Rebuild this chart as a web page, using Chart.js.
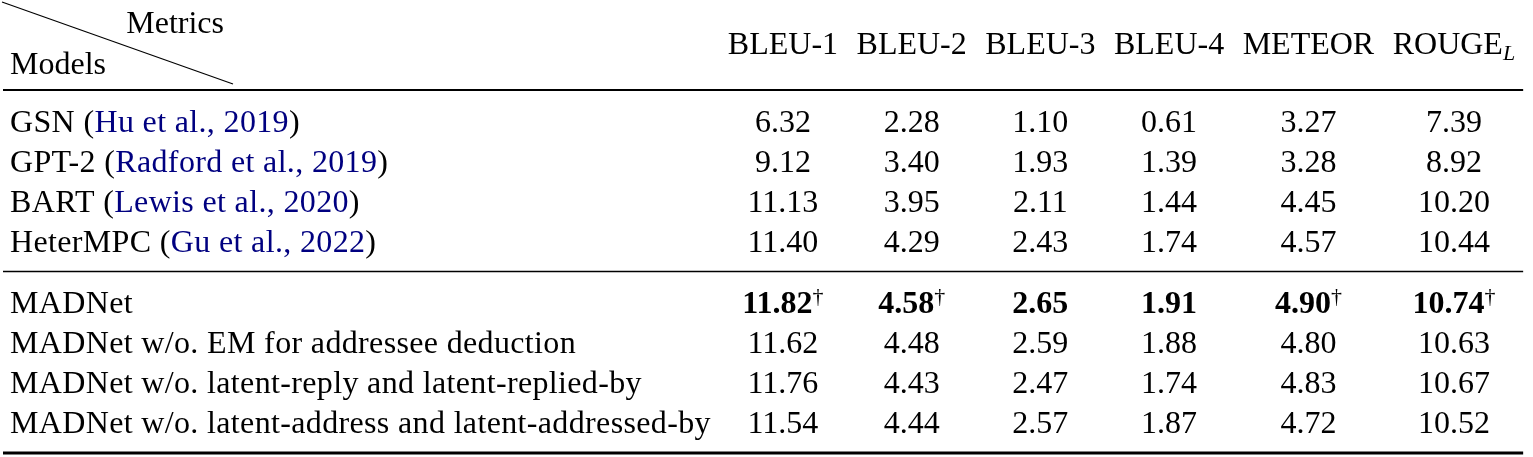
<!DOCTYPE html>
<html>
<head>
<meta charset="utf-8">
<title>MADNet results</title>
<script src="https://cdn.jsdelivr.net/npm/chart.js@4.4.1/dist/chart.umd.min.js"></script>
<style>
  html, body { margin: 0; padding: 0; background: #fff; }
  #wrap { width: 1533px; height: 457px; position: relative; }
</style>
</head>
<body>
<div id="wrap"><canvas id="table"></canvas></div>
<script>
// ---- data ----
const models = [
  "GSN", "GPT-2", "BART", "HeterMPC",
  "MADNet",
  "MADNet w/o. EM for addressee deduction",
  "MADNet w/o. latent-reply and latent-replied-by",
  "MADNet w/o. latent-address and latent-addressed-by"
];
const citations = ["Hu et al., 2019", "Radford et al., 2019", "Lewis et al., 2020", "Gu et al., 2022", null, null, null, null];
const groupOf = [0, 0, 0, 0, 1, 1, 1, 1];

const metrics = ["BLEU-1", "BLEU-2", "BLEU-3", "BLEU-4", "METEOR", "ROUGE"];
const metricSub = [null, null, null, null, null, "L"];

const bleu1  = [6.32, 9.12, 11.13, 11.40, 11.82, 11.62, 11.76, 11.54];
const bleu2  = [2.28, 3.40, 3.95, 4.29, 4.58, 4.48, 4.43, 4.44];
const bleu3  = [1.10, 1.93, 2.11, 2.43, 2.65, 2.59, 2.47, 2.57];
const bleu4  = [0.61, 1.39, 1.44, 1.74, 1.91, 1.88, 1.74, 1.87];
const meteor = [3.27, 3.28, 4.45, 4.57, 4.90, 4.80, 4.83, 4.72];
const rougeL = [7.39, 8.92, 10.20, 10.44, 10.74, 10.63, 10.67, 10.52];
const series = [bleu1, bleu2, bleu3, bleu4, meteor, rougeL];

const bestRow = 4;                                   // bold row
const bestDagger = [true, true, false, false, true, true];

// ---- layout ----
const W = 1533, H = 457;
const FS = 32, SMALL = 22;
const SERIF = '"Liberation Serif", "Times New Roman", Times, serif';
const INK = "#000", CITE = "#000080";
const NAME_SPACING = "0.35px";

const ROW = 40;          // px per row unit
const HEAD_Y = 43;       // px centre of header line
const HEAD_GAP = 1.95;   // header -> first row, in row units
const GROUP_GAP = 0.525; // extra space around the mid rule
const RULE_OFF = 0.775;

const TEXT_LEFT = 10, RULE_LEFT = 3, RULE_PAD = 8;
const LEAD_GAP = 17, COL_GAP = 18.5;
const DIAG_RIGHT = 233, METRICS_RIGHT = 224;

const rowY = i => HEAD_GAP + i + groupOf[i] * GROUP_GAP;

function font(r) {
  return (r.italic ? "italic " : "") + (r.bold ? "bold " : "") + (r.size || FS) + "px " + SERIF;
}

const measureCtx = document.createElement("canvas").getContext("2d");
function runsWidth(ctx, runs) {
  let w = 0;
  runs.forEach(r => {
    ctx.font = font(r);
    ctx.letterSpacing = r.spacing || "0px";
    w += ctx.measureText(r.text).width;
  });
  ctx.letterSpacing = "0px";
  return w;
}

// cell contents
const nameCells = models.map((m, i) => {
  const runs = [{ text: m, color: INK, spacing: NAME_SPACING }];
  if (citations[i]) {
    runs[0].text = m + " (";
    runs.push({ text: citations[i], color: CITE, spacing: NAME_SPACING });
    runs.push({ text: ")", color: INK, spacing: NAME_SPACING });
  }
  return runs;
});
const headCells = metrics.map((m, k) => {
  const runs = [{ text: m, color: INK }];
  if (metricSub[k]) runs.push({ text: metricSub[k], color: INK, italic: true, size: SMALL, shift: 6 });
  return runs;
});
const valueCells = series.map((vals, k) => vals.map((v, i) => {
  const runs = [{ text: v.toFixed(2), color: INK, bold: i === bestRow }];
  if (i === bestRow && bestDagger[k]) runs.push({ text: "\u2020", color: INK, size: SMALL, shift: -10 });
  return runs;
}));

// column positions from text widths, like a tabular
const nameW = Math.max(...nameCells.map(c => runsWidth(measureCtx, c)));
const colX = [];
let cursor = TEXT_LEFT + nameW + LEAD_GAP;
series.forEach((vals, k) => {
  const w = Math.max(runsWidth(measureCtx, headCells[k]), ...valueCells[k].map(c => runsWidth(measureCtx, c)));
  colX.push(cursor + w / 2);
  cursor += w + COL_GAP;
});
const RULE_RIGHT = cursor - COL_GAP + RULE_PAD;

const lastRow = rowY(models.length - 1);
const rules = [
  { y: rowY(0) - RULE_OFF, width: 2 },
  { y: (rowY(3) + rowY(4)) / 2, width: 1.7 },
  { y: lastRow + RULE_OFF, width: 3 }
];

// ---- datasets: every cell is a point placed by the scales ----
const datasets = [
  {
    label: "corner",
    data: [{ x: METRICS_RIGHT, y: -0.525 }, { x: TEXT_LEFT, y: 0.5 }],
    cells: [[{ text: "Metrics", color: INK }], [{ text: "Models", color: INK }]],
    aligns: ["right", "left"]
  },
  {
    label: "header",
    data: metrics.map((m, k) => ({ x: colX[k], y: 0 })),
    cells: headCells,
    align: "center"
  },
  {
    label: "models",
    data: models.map((m, i) => ({ x: TEXT_LEFT, y: rowY(i) })),
    cells: nameCells,
    align: "left"
  }
];
series.forEach((vals, k) => {
  datasets.push({
    label: metrics[k],
    data: vals.map((v, i) => ({ x: colX[k], y: rowY(i) })),
    cells: valueCells[k],
    align: "center"
  });
});

function drawRuns(ctx, runs, x, y, align) {
  const w = runsWidth(ctx, runs);
  let cx = align === "left" ? x : align === "right" ? x - w : x - w / 2;
  const base = y + 0.34 * FS;
  ctx.textAlign = "left";
  ctx.textBaseline = "alphabetic";
  runs.forEach(r => {
    ctx.font = font(r);
    ctx.letterSpacing = r.spacing || "0px";
    ctx.fillStyle = r.color;
    ctx.fillText(r.text, cx, base + (r.shift || 0));
    cx += ctx.measureText(r.text).width;
  });
  ctx.letterSpacing = "0px";
}

const tablePlugin = {
  id: "tableText",
  afterDatasetsDraw(chart) {
    const ctx = chart.ctx;
    const xs = chart.scales.x, ys = chart.scales.y;
    ctx.save();
    ctx.strokeStyle = INK;

    rules.forEach(r => {
      const py = ys.getPixelForValue(r.y);
      ctx.lineWidth = r.width;
      ctx.beginPath();
      ctx.moveTo(xs.getPixelForValue(RULE_LEFT), py);
      ctx.lineTo(xs.getPixelForValue(RULE_RIGHT), py);
      ctx.stroke();
    });

    // diagonal of the corner cell
    ctx.lineWidth = 1.2;
    ctx.beginPath();
    ctx.moveTo(xs.getPixelForValue(RULE_LEFT - 1), ys.getPixelForValue(-1.025));
    ctx.lineTo(xs.getPixelForValue(DIAG_RIGHT), ys.getPixelForValue(1.025));
    ctx.stroke();

    chart.data.datasets.forEach((ds, di) => {
      chart.getDatasetMeta(di).data.forEach((pt, i) => {
        drawRuns(ctx, ds.cells[i], pt.x, pt.y, ds.aligns ? ds.aligns[i] : ds.align);
      });
    });
    ctx.restore();
  }
};

new Chart(document.getElementById("table"), {
  type: "scatter",
  data: { datasets },
  options: {
    responsive: true,
    maintainAspectRatio: false,
    animation: false,
    events: [],
    layout: { padding: 0 },
    elements: { point: { radius: 0, hoverRadius: 0 } },
    plugins: { legend: { display: false }, tooltip: { enabled: false } },
    scales: {
      x: { type: "linear", display: false, min: 0, max: W },
      y: { type: "linear", display: false, reverse: true, min: -HEAD_Y / ROW, max: (H - HEAD_Y) / ROW }
    }
  },
  plugins: [tablePlugin]
});
</script>
</body>
</html>
